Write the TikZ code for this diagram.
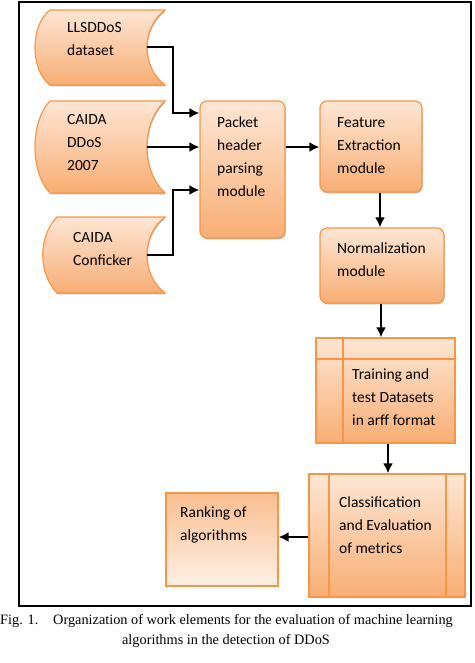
\documentclass[tikz,border=0pt]{standalone}
\usepackage{fontspec}
\setmainfont{Carlito}
\newfontfamily\capfont{Liberation Serif}
\usetikzlibrary{arrows.meta}
\usetikzlibrary{shadows}

\definecolor{orline}{HTML}{F79646}
\definecolor{ortop}{HTML}{FDE6D4}
\definecolor{orbot}{HTML}{F8AE74}

\tikzset{
	shade box/.style={draw=orline, line width=1.2pt, top color=ortop, bottom color=orbot,
		drop shadow={shadow xshift=0.6pt, shadow yshift=-1.4pt, fill=black!45, opacity=0.6}},
	modbox/.style={shade box, rectangle, rounded corners=7pt, inner sep=0pt},
	flatbox/.style={shade box, rectangle, inner sep=0pt},
	txt/.style={anchor=base west, align=left, inner sep=0pt, font=\fontsize{15.5}{23}\selectfont},
	arr/.style={-{Latex[length=10pt,width=10pt]}, line width=2pt},
}

\begin{document}
\begin{tikzpicture}[x=1pt,y=-1pt]
	\useasboundingbox (0,0) rectangle (474,663);
	\draw[line width=2.2pt] (19,2) rectangle (471,606);

	% data sources
	\path[shade box] (50,10) -- (165,10) .. controls (141,28) and (141,67) .. (165,85)
		-- (50,85) .. controls (30,70) and (30,25) .. (50,10) -- cycle;
	\path[shade box] (50,101) -- (165,101) .. controls (141,123) and (141,171) .. (165,193)
		-- (50,193) .. controls (30,172) and (30,122) .. (50,101) -- cycle;
	\path[shade box] (57,217) -- (165,217) .. controls (141,235) and (141,275) .. (165,293)
		-- (57,293) .. controls (38,273) and (38,237) .. (57,217) -- cycle;
	\coordinate (lls) at (147,47);
	\coordinate (ddos) at (147,147);
	\coordinate (conf) at (147,255);
	% (text nodes sit on the baseline of their last line)
	\node[txt] at (67,56) {LLSDDoS\\dataset};
	\node[txt] at (67,171) {CAIDA\\DDoS\\2007};
	\node[txt] at (73,265) {CAIDA\\Conficker};

	% processing steps
	\node[modbox, minimum width=85pt, minimum height=137pt] (pa) at (242.5,169.5) {};
	\node[txt] at (217,196) {Packet\\header\\parsing\\module};
	\node[modbox, minimum width=102pt, minimum height=91pt] (fe) at (371,146.5) {};
	\node[txt] at (337,173) {Feature\\Extraction\\module};
	\node[modbox, minimum width=124pt, minimum height=75pt] (no) at (382,265.5) {};
	\node[txt] at (337,276) {Normalization\\module};

	\node[flatbox, minimum width=139pt, minimum height=105pt] (tr) at (385.5,390.5) {};
	\draw[orline, line width=1.2pt] (tr.north west |- 0,359) -- (tr.north east |- 0,359);
	\draw[orline, line width=1.2pt] (tr.north west -| 343,0) -- (tr.south west -| 343,0);
	\node[txt] at (352,425) {Training and\\test Datasets\\in arff format};

	\node[flatbox, minimum width=156pt, minimum height=123pt] (cl) at (387,535.5) {};
	\foreach \xx in {329,446}
		\draw[orline, line width=1.2pt] (cl.north -| \xx,0) -- (cl.south -| \xx,0);
	\node[txt] at (339,553) {Classification\\and Evaluation\\of metrics};

	\node[flatbox, top color=orbot!80, bottom color=ortop!60, minimum width=112pt, minimum height=93pt] (ra) at (222,539.5) {};
	\node[txt] at (180,540) {Ranking of\\algorithms};

	% connectors
	\draw[arr, line width=2.5pt] (lls) -- (173,47) |- (pa.west |- 0,113);
	\draw[arr, line width=2.5pt] (ddos) -- (pa.west |- ddos);
	\draw[arr, line width=2.5pt] (conf) -- (173,255) |- (pa.west |- 0,190);
	\draw[arr] (pa.east |- 0,147) -- (fe.west |- 0,147);
	\draw[arr] (fe.south -| 380,0) -- (no.north -| 380,0);
	\draw[arr] (no.south -| 381,0) -- (tr.north -| 381,0);
	\draw[arr] (tr.south -| 388,0) -- (cl.north -| 388,0);
	\draw[arr] (cl.west |- 0,537) -- (ra.east |- 0,537);

	% caption
	\node[anchor=base west, inner sep=0pt, font=\capfont\fontsize{14.3}{16}\selectfont] (fig) at (0,624) {Fig. 1.};
	\node[anchor=base west, inner sep=0pt, font=\capfont\fontsize{14.3}{16}\selectfont] (cap) at (53,624) {Organization of work elements for the evaluation of machine learning};
	\node[anchor=base, inner sep=0pt, font=\capfont\fontsize{14.3}{16}\selectfont] (cap2) at (226,644) {algorithms in the detection of DDoS};
\end{tikzpicture}
\end{document}
